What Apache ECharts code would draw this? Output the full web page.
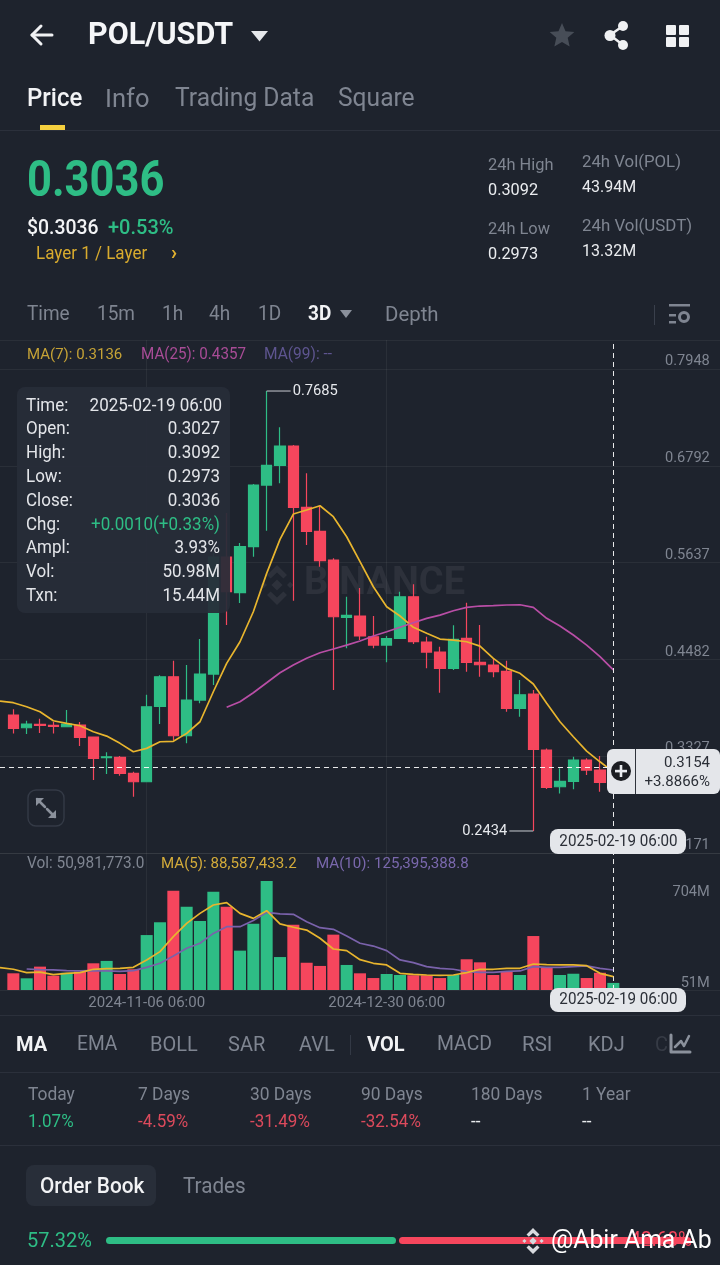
<!DOCTYPE html>
<html><head><meta charset="utf-8">
<style>html,body{margin:0;padding:0;background:#1e232d}#c{width:720px;height:1265px}</style>
<script src="https://cdn.jsdelivr.net/npm/echarts@6/dist/echarts.min.js"></script>
</head><body><div id="c"></div>
<script>
// ---- data ----
const leadDate = '2024-10-04 06:00';
const dates = ['2024-10-07','2024-10-10','2024-10-13','2024-10-16','2024-10-19','2024-10-22','2024-10-25','2024-10-28','2024-10-31','2024-11-03','2024-11-06','2024-11-09','2024-11-12','2024-11-15','2024-11-18','2024-11-21','2024-11-24','2024-11-27','2024-11-30','2024-12-03','2024-12-06','2024-12-09','2024-12-12','2024-12-15','2024-12-18','2024-12-21','2024-12-24','2024-12-27','2024-12-30','2025-01-02','2025-01-05','2025-01-08','2025-01-11','2025-01-14','2025-01-17','2025-01-20','2025-01-23','2025-01-26','2025-01-29','2025-02-01','2025-02-04','2025-02-07','2025-02-10','2025-02-13','2025-02-16','2025-02-19'];
const futureDates = ['2025-02-22','2025-02-25','2025-02-28','2025-03-03','2025-03-06','2025-03-09','2025-03-12','2025-03-15'];
const opens  = [.3818,.3666,.3707,.3695,.3678,.3698,.3555,.3308,.3313,.3122,.3022,.3922,.4275,.3571,.3997,.4307,.5704,.5278,.5827,.6563,.6798,.7029,.6297,.6011,.5668,.4984,.5000,.4752,.4653,.4733,.5230,.4689,.4570,.4375,.4733,.4447,.4415,.4339,.3898,.4068,.3400,.2962,.3026,.3281,.3161,.3027];
const closes = [.3659,.3710,.3695,.3683,.3710,.3552,.3301,.3320,.3122,.3022,.3917,.4275,.3571,.3997,.4307,.5704,.5290,.5827,.6563,.6798,.7029,.6297,.6011,.5660,.4991,.5008,.4761,.4653,.4729,.5230,.4693,.4570,.4375,.4721,.4447,.4418,.4335,.3898,.4060,.3408,.2955,.3026,.3281,.3161,.3014,.3036];
const highs  = [.3886,.3750,.3774,.3738,.3877,.3734,.3560,.3373,.3328,.3141,.4060,.4292,.4466,.4415,.4725,.5752,.6229,.5871,.6575,.7685,.7252,.7040,.6703,.6316,.5688,.5230,.5334,.5000,.4761,.5290,.5378,.4752,.4633,.4889,.5158,.4892,.4495,.4466,.4236,.4116,.3420,.3182,.3320,.3301,.3328,.3092];
const lows   = [.3599,.3591,.3603,.3599,.3671,.3448,.3042,.3114,.3093,.2843,.3020,.3710,.3519,.3480,.3958,.4176,.4892,.5155,.5707,.6018,.6584,.5182,.5847,.5588,.4116,.4614,.4713,.4614,.4447,.4725,.4665,.4375,.4084,.4355,.4335,.4275,.4268,.3857,.3797,.2434,.2934,.2883,.2931,.3102,.2902,.2973];
const ma7 = [.3985,.3965,.3917,.3857,.3750,.3719,.3690,.3618,.3567,.3480,.3380,.3420,.3499,.3504,.3599,.3738,.4096,.4435,.4693,.5051,.5509,.5915,.6217,.6265,.6316,.6185,.5946,.5648,.5349,.5111,.5000,.4865,.4793,.4725,.4713,.4693,.4641,.4495,.4375,.4316,.4188,.3958,.3738,.3559,.3388,.3260,.3136];
const ma25 = [.3910,.3977,.4084,.4203,.4323,.4415,.4495,.4561,.4606,.4653,.4701,.4761,.4812,.4865,.4920,.4972,.5011,.5063,.5103,.5119,.5123,.5131,.5134,.5103,.4972,.4880,.4773,.4653,.4514,.4357];
const ma25StartIndex = 16;
const volumes = [120,84,168,103,124,132,192,209,115,149,395,487,714,599,496,707,599,283,477,784,237,470,196,173,398,180,120,86,115,108,106,106,86,108,221,199,108,132,108,388,163,108,117,86,124,51];
const volMa5 = [161,149,125,129,110,120,125,149,153,156,163,216,276,384,479,551,611,628,551,515,570,475,451,431,372,295,283,218,192,180,120,113,108,105,108,125,149,149,156,156,187,182,180,180,175,120,96];
const volMa10 = [151,146,144,139,137,139,137,134,139,163,192,244,300,336,407,455,455,499,558,547,544,491,448,436,388,336,316,283,216,197,168,156,149,132,127,127,134,137,168,163,163,168,173,156,144];
const volMa10StartIndex = 1;
const priceTickStart = 0.21714, priceTickStep = 0.115525, priceAxisMax = 0.8294;
const volAxisMax = 985, volTicks = [51,704];
const dateLabels = ['2024-11-06 06:00','2024-12-30 06:00'];
const crosshairPrice = 0.3154;
const extremeIdx = [19,39], extremeSide = [1,-1];

// ---- theme ----
const BG='#1e232d', GREEN='#2ebd85', RED='#f6465d', YEL='#e8b52e', MAG='#b94ea6', PUR='#7a62ab', TXT='#eaecef', GRY='#7f8591', LINE='#2b303b', SPLIT='rgba(255,255,255,.055)';
const FONT='Roboto, "Noto Sans", sans-serif';

const cats = [leadDate, ...dates.map(d=>d+' 06:00'), ...futureDates.map(d=>d+' 06:00')];
const pad = (arr,start)=>{const o=new Array(cats.length).fill(null);arr.forEach((v,i)=>o[start+i]=v);return o;};
const last = dates.length-1;
const candle = pad(opens.map((o,i)=>[o,closes[i],lows[i],highs[i]]),1).map(v=>v||['-','-','-','-']);
const up = i=>closes[i]>=opens[i];
const volBars = pad(volumes.map((v,i)=>({value:v,itemStyle:{color:up(i)?GREEN:RED}})),1);
const isDateLabel=(i,v)=>dateLabels.includes(v);
const crossDate = cats[last+1];

// ---- UI drawing helpers ----
const ui=[]; const SY=1.03, DY=1.5;
function T(text,x,y,size,color,o={}){ui.push({type:'text',x,y:y+DY,scaleY:o.sy||SY,z:o.z||100,silent:true,style:{text,fill:color,font:`${o.w||400} ${size}px ${FONT}`,textAlign:o.a||'left',textVerticalAlign:'middle',verticalAlign:'middle',opacity:o.op==null?1:o.op}});}
function R(x,y,w,h,fill,r=0,z=90,stroke){ui.push({type:'rect',silent:true,z,shape:{x,y,width:w,height:h,r},style:stroke?{fill:'none',stroke,lineWidth:1.4}:{fill}});}
function P(pts,fill,z=100){ui.push({type:'polygon',silent:true,z,shape:{points:pts},style:{fill}});}
function L(pts,stroke,w=2,z=100){ui.push({type:'polyline',silent:true,z,shape:{points:pts},style:{stroke,fill:'none',lineWidth:w,lineCap:'round',lineJoin:'round'}});}
function C(cx,cy,r,fill,z=100,stroke,lw){ui.push({type:'circle',silent:true,z,shape:{cx,cy,r},style:stroke?{fill:'none',stroke,lineWidth:lw}:{fill}});}
function logo(cx,cy,s,fill,z){const d=(x,y,r)=>P([[x,y-r],[x+r,y],[x,y+r],[x-r,y]],fill,z);d(cx,cy,s*.28);d(cx-s*.66,cy,s*.16);d(cx+s*.66,cy,s*.16);
  P([[cx,cy-s],[cx+s*.5,cy-s*.5],[cx+s*.32,cy-s*.32],[cx,cy-s*.62],[cx-s*.32,cy-s*.32],[cx-s*.5,cy-s*.5]],fill,z);
  P([[cx,cy+s],[cx+s*.5,cy+s*.5],[cx+s*.32,cy+s*.32],[cx,cy+s*.62],[cx-s*.32,cy+s*.32],[cx-s*.5,cy+s*.5]],fill,z);}

// header
L([[52,35],[32,35]],'#f0f1f3',3); L([[41,26],[32,35],[41,44]],'#f0f1f3',3);
T('POL/USDT',88,35,30.5,'#f5f6f8',{w:700});
P([[251,31],[268,31],[259.5,41.5]],'#e6e8ec');
{const pts=[];for(let i=0;i<10;i++){const a=-Math.PI/2+i*Math.PI/5,r=i%2?6:13;pts.push([562+r*Math.cos(a),36+r*Math.sin(a)]);}P(pts,'#474d57');}
L([[623,26],[610,35],[623,45]],'#f0f1f3',2.5);C(623,26,5,'#f0f1f3');C(610,35.5,5.5,'#f0f1f3');C(623,45,5,'#f0f1f3');
R(666,25,10,10,'#f0f1f3',1,100);R(679,25,10,10,'#f0f1f3',1,100);R(666,37,10,10,'#f0f1f3',1,100);R(679,37,10,10,'#f0f1f3',1,100);
// tabs
T('Price',27,98.5,24,'#f2f3f5',{w:500,sy:1.08});T('Info',105,98.5,25.5,GRY);T('Trading Data',175,98.5,24.6,GRY);T('Square',338,98.5,24.6,GRY);
R(40,125,25,5,'#f5cf3e',0,100);R(0,130,720,1,LINE,0,1);
// price block
T('0.3036',27,182,43.5,GREEN,{w:700,sy:1.14});T('$0.3036',27,227.5,19.4,'#f2f3f5',{w:500});T('+0.53%',108,227.5,20,GREEN,{w:500});
T('Layer 1 / Layer',36,253,17,'#d8ab2e');T('›',171,252,20,'#e0b030',{w:700});
T('24h High',488,164,16.4,GRY);T('0.3092',488,189,16.3,TXT);T('24h Low',488,228,16.4,GRY);T('0.2973',488,253,16.3,TXT);
T('24h Vol(POL)',582,161,16.8,GRY);T('43.94M',582,186,16,TXT);T('24h Vol(USDT)',582,225,16.9,GRY);T('13.32M',582,250,16,TXT);
// intervals
[['Time',27],['15m',97],['1h',162],['4h',209],['1D',258]].forEach(a=>T(a[0],a[1],314,19,GRY));T('Depth',385,314,20.4,GRY);
T('3D',308,314,19,'#f2f3f5',{w:700});P([[340,310],[352,310],[346,318]],'#8a909b');
R(654,305,1,20,'#3a404c',0,100);R(669,304,21,2.5,'#7f8591',0,100);R(669,314,7,2.5,'#7f8591',0,100);R(669,321,7,2.5,'#7f8591',0,100);C(684,317,4.5,'none',100,'#7f8591',3);
// MA legends
T('MA(7): 0.3136',27,354,15,'#c6a336');T('MA(25): 0.4357',141,354,15.2,'#a84c96');T('MA(99): --',264,354,15.5,'#5e5590');
T('Vol: 50,981,773.0',27,863,15.4,GRY);T('MA(5): 88,587,433.2',161,863,15.1,'#d3ab3a');T('MA(10): 125,395,388.8',316,863,15.1,'#7a68ad');
// watermark
logo(277,585,20,'rgba(255,255,255,.065)',1);T('BINANCE',304,583,38,'rgba(255,255,255,.065)',{w:700,z:1});
// info box
R(17,387,213,226,'rgba(39,45,56,.94)',8,90);
[['Time:','2025-02-19 06:00',405],['Open:','0.3027',428],['High:','0.3092',452],['Low:','0.2973',476],['Close:','0.3036',500],['Chg:','+0.0010(+0.33%)',524],['Ampl:','3.93%',547],['Vol:','50.98M',571],['Txn:','15.44M',595]].forEach(r=>{
  T(r[0],26,r[2],17,'#e3e5e9');T(r[1],r[1]==='2025-02-19 06:00'?222:220,r[2],17,r[0]==='Chg:'?GREEN:'#e3e5e9',{a:'right'});});
// expand button
R(28,790,36,36,'none',8,100,'#343a46');
L([[37,799],[45,807]],'#8b919c',2.5);P([[36,798],[44,798],[36,806]],'#8b919c');L([[47,809],[55,817]],'#8b919c',2.5);P([[56,818],[48,818],[56,810]],'#8b919c');
// crosshair labels
R(607,749,113,45,'#e4e6ea',6,95);R(635,749,1,45,'#30343c',0,96);
C(621,771,10,'#1b1d22',97);R(615,769.8,12,2.6,'#e8eaee',0,98);R(619.7,765,2.6,12,'#e8eaee',0,98);
T('0.3154',710,762,15,'#2b2f37',{a:'right'});T('+3.8866%',710,781,15,'#2b2f37',{a:'right'});
R(550,829,136,25,'#e4e6ea',8,95);T('2025-02-19 06:00',618.5,841,15.2,'#2b2f37',{a:'center'});
R(550,988,136,24,'#e4e6ea',8,95);T('2025-02-19 06:00',618.5,999,15.2,'#2b2f37',{a:'center'});
// separators
R(0,1015,720,1,LINE,0,1);R(0,1072,720,1,LINE,0,1);R(0,1145,720,1,LINE,0,1);
// indicators
T('MA',16,1044,20,'#f2f3f5',{w:700});T('VOL',367,1044,20,'#f2f3f5',{w:700});
[['EMA',77,19.2],['BOLL',150,20],['SAR',228,20],['AVL',299,20],['MACD',437,19.4],['RSI',522,20.5],['KDJ',588,20]].forEach(a=>T(a[0],a[1],1044,a[2],GRY));
T('C',655,1044,20,GRY,{op:.25});R(350,1035,1,20,'#333945',0,100);
L([[671,1035],[671,1052],[690,1052]],'#8b919c',3);L([[675,1047],[681,1041],[684,1046],[689,1036]],'#8b919c',2.5);
// stats
[['Today','1.07%',28,GREEN],['7 Days','-4.59%',138,RED],['30 Days','-31.49%',250,RED],['90 Days','-32.54%',361,RED],['180 Days','--',471,TXT],['1 Year','--',582,TXT]].forEach(s=>{T(s[0],s[2],1094,17.4,GRY);T(s[1],s[2],1121,17,s[3]==RED?'#dc4a5c':s[3]);});
// order book
R(26,1165,130,41,'#282e39',8,90);T('Order Book',40,1186,20.8,'#f2f3f5',{w:500});T('Trades',183,1186,20.7,GRY);
T('57.32%',27,1240,20,GREEN);R(106,1237,290,7,GREEN,3.5,90);R(399,1237,292,7,RED,3.5,90);
T('42.68%',692,1240,19,RED,{a:'right'});
logo(533,1241,13,'#d8dade',100);T('@Abir Ama Ab',551,1240,24.8,'#ffffff',{z:101});

const vDash={symbol:'none',silent:true,animation:false,label:{show:false},lineStyle:{color:'rgba(255,255,255,.9)',type:[5,4],width:1}};
const chart=echarts.init(document.getElementById('c'));
const GX={left:-7.6,width:734.8};
chart.setOption({
  animation:false,backgroundColor:BG,
  grid:[{...GX,top:340,height:513},{...GX,top:853,height:137}],
  xAxis:[
    {type:'category',gridIndex:0,data:cats,boundaryGap:false,containShape:false,axisTick:{show:false},axisLabel:{show:false},axisLine:{lineStyle:{color:SPLIT}},splitLine:{show:true,interval:isDateLabel,lineStyle:{color:SPLIT}}},
    {type:'category',gridIndex:1,data:cats,boundaryGap:false,containShape:false,axisTick:{show:false},axisLine:{lineStyle:{color:SPLIT}},splitLine:{show:true,interval:isDateLabel,lineStyle:{color:SPLIT}},
     axisLabel:{interval:isDateLabel,color:GRY,fontSize:15,fontFamily:FONT,margin:6}}
  ],
  yAxis:[
    {type:'value',gridIndex:0,position:'right',min:priceTickStart,max:priceAxisMax,interval:priceTickStep,axisLine:{show:false},axisTick:{show:false},splitLine:{lineStyle:{color:SPLIT}},
     axisLabel:{inside:true,margin:10.2,color:GRY,fontSize:14.6,fontFamily:FONT,verticalAlign:'bottom',showMaxLabel:false,formatter:v=>v.toFixed(4)}},
    {type:'value',gridIndex:1,position:'right',min:0,max:volAxisMax,axisLine:{show:false},axisTick:{show:false},splitLine:{show:false},
     axisLabel:{inside:true,margin:10.2,color:GRY,fontSize:14.6,fontFamily:FONT,customValues:volTicks,formatter:v=>v+'M'}}
  ],
  series:[
    {type:'candlestick',xAxisIndex:0,yAxisIndex:0,data:candle,barWidth:11,itemStyle:{color:GREEN,color0:RED,borderColor:GREEN,borderColor0:RED,borderWidth:1.2},
     markLine:{...vDash,data:[{yAxis:crosshairPrice},{xAxis:crossDate}]}},
    {type:'line',xAxisIndex:0,yAxisIndex:0,data:ma7,showSymbol:false,lineStyle:{color:YEL,width:1.7},z:4},
    {type:'line',xAxisIndex:0,yAxisIndex:0,data:pad(ma25,ma25StartIndex+1),showSymbol:false,lineStyle:{color:MAG,width:1.7},z:4},
    {type:'custom',xAxisIndex:0,yAxisIndex:0,z:5,silent:true,clip:false,data:extremeIdx.map(i=>[i+1,extremeSide[extremeIdx.indexOf(i)]>0?highs[i]:lows[i]]),
     renderItem(p,api){const c=api.coord([api.value(0),api.value(1)]),s=extremeSide[p.dataIndex],e=c[0]+s*24;
       return {type:'group',children:[
        {type:'line',shape:{x1:c[0],y1:c[1],x2:e,y2:c[1]},style:{stroke:'#c9ccd2',lineWidth:1}},
        {type:'text',x:e+s*2,y:c[1],style:{text:api.value(1).toFixed(4),fill:'#e6e8ec',font:`14.7px ${FONT}`,textAlign:s>0?'left':'right',textVerticalAlign:'middle',verticalAlign:'middle'}}]};}},
    {type:'bar',xAxisIndex:1,yAxisIndex:1,data:volBars,barWidth:12,markLine:{...vDash,data:[{xAxis:crossDate}]}},
    {type:'line',xAxisIndex:1,yAxisIndex:1,data:pad(volMa10,volMa10StartIndex+1),showSymbol:false,lineStyle:{color:PUR,width:1.7},z:4},
    {type:'line',xAxisIndex:1,yAxisIndex:1,data:pad(volMa5,0),showSymbol:false,lineStyle:{color:YEL,width:1.7},z:5}
  ],
  graphic:{elements:ui}
});
</script></body></html>
